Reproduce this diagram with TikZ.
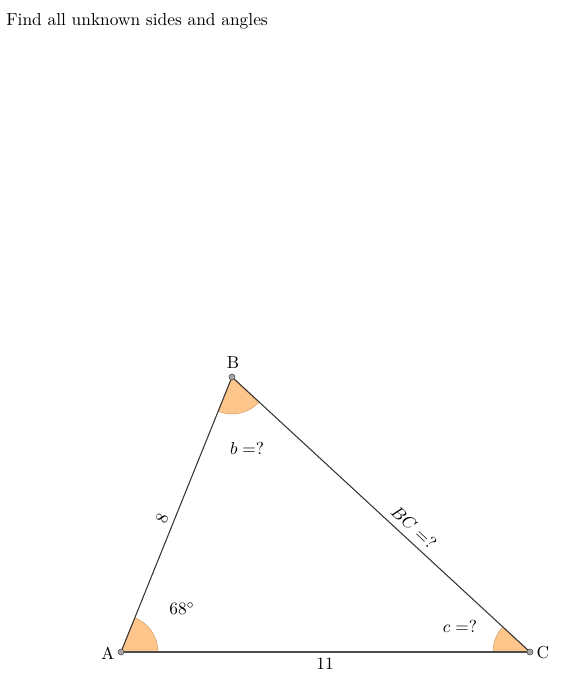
\documentclass[tikz,border=0pt]{standalone}
\begin{document}
\begin{tikzpicture}[x=0.576pt,y=-0.576pt,
  side/.style={draw=black!80,line width=0.6pt},
  wedge/.style={fill=orange!45!white,draw=orange!70!black!60,line width=0.3pt},
  vtx/.style={circle,fill=gray!70,draw=black!70,line width=0.3pt,inner sep=0pt,minimum size=3.5pt},
  lbl/.style={inner sep=1pt,font=\normalsize}]
\useasboundingbox (0,0) rectangle (575,700);
\fill[white] (0,0) rectangle (575,700);
\node[anchor=west,inner sep=0pt] (title) at (6,21) {Find all unknown sides and angles};
\coordinate (A) at (121,652);
\coordinate (B) at (232,377);
\coordinate (C) at (530,652);
% angle wedges
\filldraw[wedge] (A) -- ++(-68:37) arc[start angle=-68,end angle=0,radius=37] -- cycle;
\filldraw[wedge] (B) -- ++(42.7:37) arc[start angle=42.7,end angle=112,radius=37] -- cycle;
\filldraw[wedge] (C) -- ++(180:37) arc[start angle=180,end angle=222.7,radius=37] -- cycle;
% sides
\draw[side] (A) -- (B);
\draw[side] (B) -- (C);
\draw[side,draw=black!70] (A) -- (C);
% vertices
\node[vtx] (vA) at (A) {};
\node[vtx] (vB) at (B) {};
\node[vtx] (vC) at (C) {};
\node[lbl] (lA) at (108,653) {A};
\node[lbl] (lB) at (233,363) {B};
\node[lbl] (lC) at (543,653) {C};
% labels
\node[lbl] (lb) at (247,448) {$b =?$};
\node[lbl] (la) at (182,609) {$68^\circ$};
\node[lbl] (lc) at (460,626) {$c =?$};
\node[lbl] (l11) at (325,664) {11};
\node[lbl,rotate=68] (l8) at (162,518) {8};
\node[lbl,rotate=-42.7] (lBC) at (414,527) {$BC =?$};
\end{tikzpicture}
\end{document}
